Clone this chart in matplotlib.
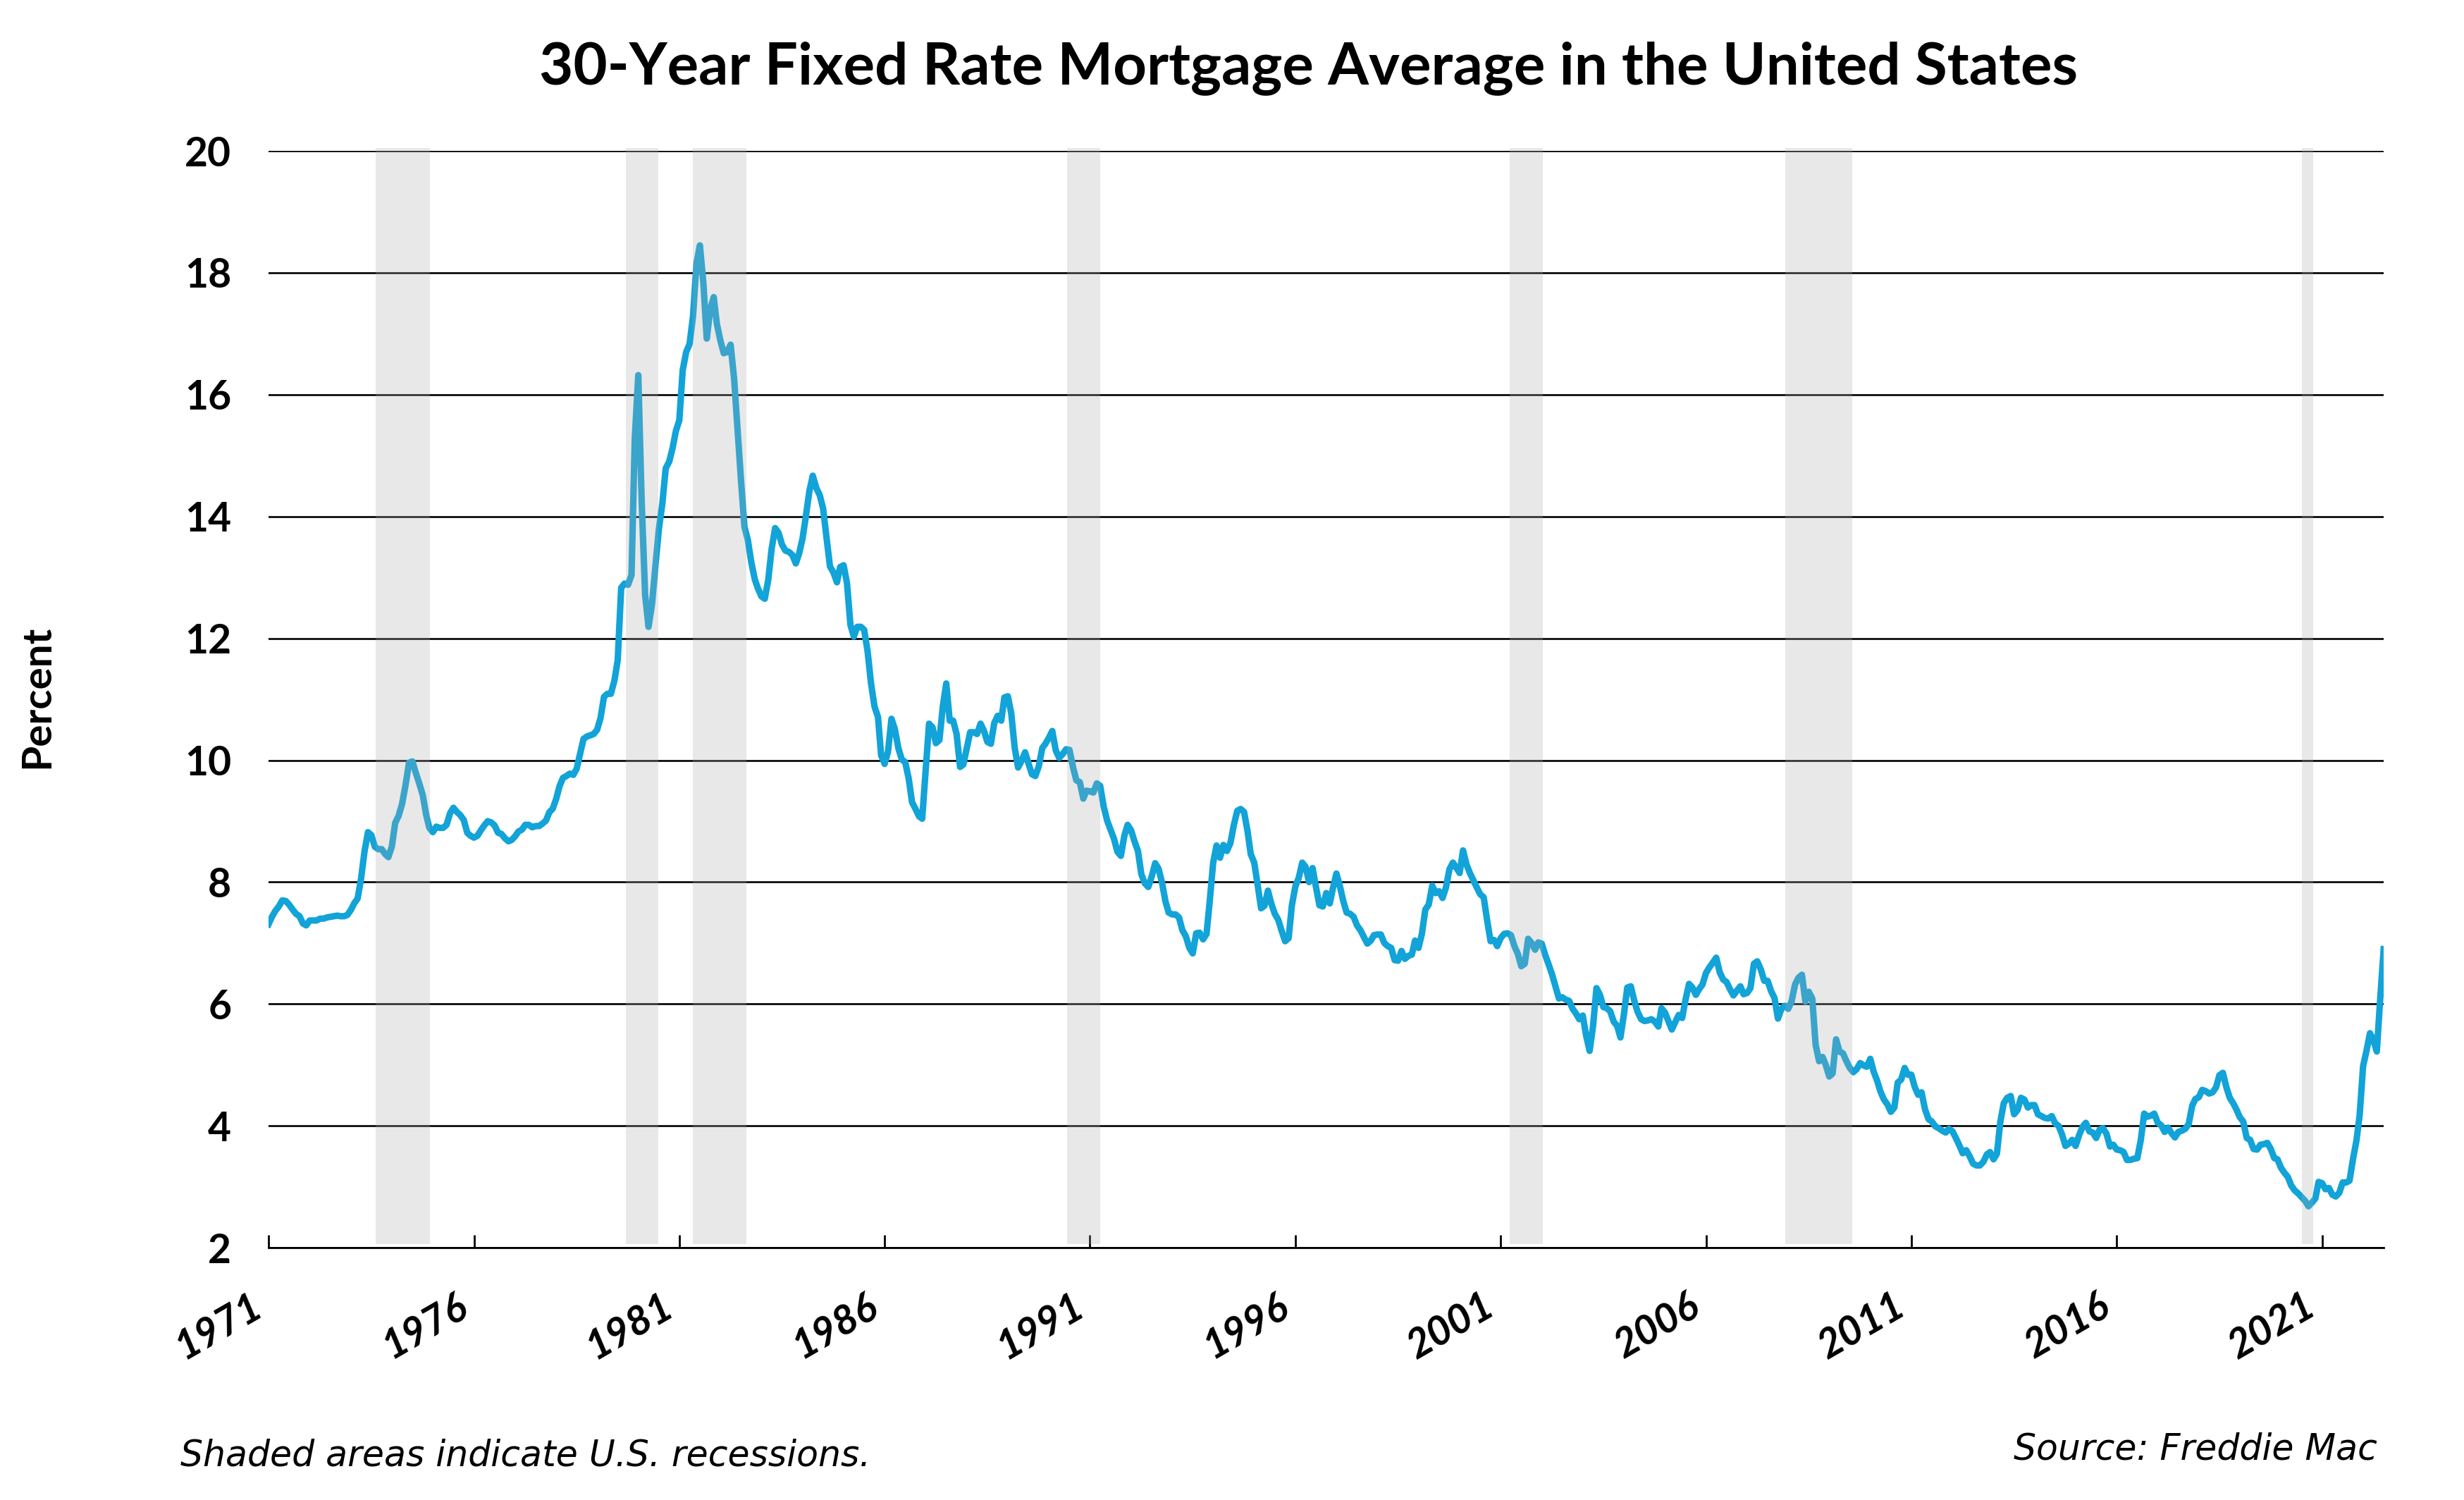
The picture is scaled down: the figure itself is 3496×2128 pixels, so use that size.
import matplotlib
matplotlib.use('Agg')
import matplotlib.pyplot as plt
import pandas as pd

# Monthly 30-year fixed rate average (%), starting April 1971
rate = [
    7.31, 7.43, 7.53, 7.60, 7.70, 7.69, 7.63, 7.55, 7.48,  # 1971 (Apr-Dec)
    7.44, 7.32, 7.29, 7.37, 7.37, 7.37, 7.40, 7.40, 7.42, 7.43, 7.44, 7.45,  # 1972
    7.44, 7.44, 7.46, 7.54, 7.65, 7.73, 8.05, 8.50, 8.82, 8.77, 8.58, 8.54,  # 1973
    8.54, 8.46, 8.41, 8.58, 8.97, 9.09, 9.28, 9.59, 9.96, 9.98, 9.79, 9.62,  # 1974
    9.43, 9.10, 8.89, 8.82, 8.91, 8.89, 8.89, 8.94, 9.13, 9.22, 9.15, 9.10,  # 1975
    9.02, 8.81, 8.76, 8.73, 8.76, 8.85, 8.93, 9.00, 8.98, 8.93, 8.81, 8.79,  # 1976
    8.72, 8.67, 8.69, 8.75, 8.83, 8.86, 8.94, 8.94, 8.90, 8.92, 8.92, 8.96,  # 1977
    9.01, 9.15, 9.20, 9.36, 9.57, 9.71, 9.74, 9.78, 9.76, 9.86, 10.11, 10.35,  # 1978
    10.39, 10.41, 10.43, 10.50, 10.69, 11.04, 11.09, 11.09, 11.30, 11.64, 12.83, 12.90,  # 1979
    12.88, 13.04, 15.28, 16.32, 14.26, 12.71, 12.19, 12.56, 13.20, 13.79, 14.21, 14.79,  # 1980
    14.90, 15.13, 15.40, 15.58, 16.40, 16.70, 16.83, 17.29, 18.16, 18.45, 17.83, 16.92,  # 1981
    17.40, 17.60, 17.16, 16.89, 16.68, 16.70, 16.82, 16.27, 15.43, 14.61, 13.83, 13.62,  # 1982
    13.25, 12.97, 12.82, 12.69, 12.65, 12.96, 13.47, 13.81, 13.73, 13.54, 13.44, 13.42,  # 1983
    13.37, 13.23, 13.39, 13.64, 14.01, 14.42, 14.67, 14.47, 14.35, 14.13, 13.64, 13.18,  # 1984
    13.08, 12.92, 13.17, 13.20, 12.91, 12.22, 12.03, 12.19, 12.19, 12.14, 11.78, 11.26,  # 1985
    10.88, 10.71, 10.08, 9.94, 10.14, 10.68, 10.51, 10.20, 10.01, 9.97, 9.70, 9.31,  # 1986
    9.20, 9.08, 9.04, 9.83, 10.60, 10.54, 10.28, 10.33, 10.89, 11.26, 10.65, 10.65,  # 1987
    10.43, 9.89, 9.93, 10.20, 10.46, 10.46, 10.43, 10.60, 10.48, 10.30, 10.27, 10.61,  # 1988
    10.73, 10.65, 11.03, 11.05, 10.77, 10.20, 9.88, 9.99, 10.13, 9.95, 9.77, 9.74,  # 1989
    9.90, 10.20, 10.27, 10.37, 10.48, 10.16, 10.04, 10.10, 10.18, 10.17, 9.89, 9.67,  # 1990
    9.64, 9.37, 9.50, 9.49, 9.47, 9.62, 9.58, 9.24, 9.01, 8.86, 8.71, 8.50,  # 1991
    8.43, 8.76, 8.94, 8.85, 8.67, 8.51, 8.13, 7.98, 7.92, 8.09, 8.31, 8.22,  # 1992
    7.99, 7.68, 7.50, 7.47, 7.47, 7.42, 7.21, 7.11, 6.92, 6.83, 7.16, 7.17,  # 1993
    7.06, 7.15, 7.68, 8.32, 8.60, 8.40, 8.61, 8.51, 8.64, 8.93, 9.17, 9.20,  # 1994
    9.15, 8.83, 8.46, 8.32, 7.96, 7.57, 7.61, 7.86, 7.64, 7.48, 7.38, 7.20,  # 1995
    7.03, 7.08, 7.62, 7.93, 8.07, 8.32, 8.25, 8.00, 8.23, 7.92, 7.62, 7.60,  # 1996
    7.82, 7.65, 7.90, 8.14, 7.94, 7.69, 7.50, 7.48, 7.43, 7.29, 7.21, 7.10,  # 1997
    6.99, 7.04, 7.13, 7.14, 7.14, 7.00, 6.95, 6.92, 6.72, 6.71, 6.87, 6.74,  # 1998
    6.79, 6.81, 7.04, 6.92, 7.15, 7.55, 7.63, 7.94, 7.82, 7.85, 7.74, 7.91,  # 1999
    8.21, 8.32, 8.24, 8.15, 8.52, 8.29, 8.15, 8.03, 7.91, 7.80, 7.75, 7.38,  # 2000
    7.03, 7.05, 6.95, 7.08, 7.15, 7.16, 7.13, 6.95, 6.82, 6.62, 6.66, 7.07,  # 2001
    7.00, 6.89, 7.01, 6.99, 6.81, 6.65, 6.49, 6.29, 6.09, 6.11, 6.07, 6.05,  # 2002
    5.92, 5.84, 5.75, 5.81, 5.48, 5.23, 5.63, 6.26, 6.15, 5.95, 5.93, 5.88,  # 2003
    5.71, 5.64, 5.45, 5.83, 6.27, 6.29, 6.06, 5.87, 5.75, 5.72, 5.73, 5.75,  # 2004
    5.71, 5.63, 5.93, 5.86, 5.72, 5.58, 5.70, 5.82, 5.77, 6.07, 6.33, 6.27,  # 2005
    6.15, 6.25, 6.32, 6.51, 6.60, 6.68, 6.76, 6.52, 6.40, 6.36, 6.24, 6.14,  # 2006
    6.22, 6.29, 6.16, 6.18, 6.26, 6.66, 6.70, 6.57, 6.38, 6.38, 6.21, 6.10,  # 2007
    5.76, 5.92, 5.97, 5.92, 6.04, 6.32, 6.43, 6.48, 6.04, 6.20, 6.09, 5.33,  # 2008
    5.06, 5.13, 5.00, 4.81, 4.86, 5.42, 5.22, 5.19, 5.06, 4.95, 4.88, 4.93,  # 2009
    5.03, 4.99, 4.97, 5.10, 4.89, 4.74, 4.56, 4.43, 4.35, 4.23, 4.30, 4.71,  # 2010
    4.76, 4.95, 4.84, 4.84, 4.64, 4.51, 4.55, 4.27, 4.11, 4.07, 3.99, 3.96,  # 2011
    3.92, 3.89, 3.95, 3.91, 3.80, 3.68, 3.55, 3.60, 3.50, 3.38, 3.35, 3.35,  # 2012
    3.41, 3.53, 3.57, 3.45, 3.54, 4.07, 4.37, 4.46, 4.49, 4.19, 4.26, 4.46,  # 2013
    4.43, 4.30, 4.34, 4.34, 4.19, 4.16, 4.13, 4.12, 4.16, 4.04, 4.00, 3.86,  # 2014
    3.67, 3.71, 3.77, 3.67, 3.84, 3.98, 4.05, 3.91, 3.89, 3.80, 3.94, 3.96,  # 2015
    3.87, 3.66, 3.69, 3.61, 3.60, 3.57, 3.44, 3.44, 3.46, 3.47, 3.77, 4.20,  # 2016
    4.15, 4.17, 4.20, 4.05, 4.01, 3.90, 3.97, 3.88, 3.81, 3.90, 3.92, 3.95,  # 2017
    4.03, 4.33, 4.44, 4.47, 4.59, 4.57, 4.53, 4.55, 4.63, 4.83, 4.87, 4.64,  # 2018
    4.46, 4.37, 4.27, 4.14, 4.07, 3.80, 3.77, 3.62, 3.61, 3.69, 3.70, 3.72,  # 2019
    3.62, 3.47, 3.45, 3.31, 3.23, 3.16, 3.02, 2.94, 2.89, 2.83, 2.77, 2.68,  # 2020
    2.74, 2.81, 3.08, 3.06, 2.96, 2.98, 2.87, 2.84, 2.90, 3.07, 3.07, 3.10,  # 2021
    3.45, 3.76, 4.17, 4.98, 5.23, 5.52, 5.41, 5.22, 6.11, 6.90,  # 2022 (Jan-Oct)
]
dates = pd.date_range('1971-04-01', periods=len(rate), freq='MS')

# Shaded bands as they sit in the picture
rec_start = ['1973-11-10', '1979-12-10', '1981-07-28', '1990-09-12',
             '2001-06-21', '2008-03-03', '2020-10-01']
rec_end = ['1975-03-06', '1980-09-25', '1982-11-18', '1991-07-03',
           '2002-04-12', '2009-10-21', '2021-01-10']

tick_years = list(range(1971, 2022, 5))
y_ticks = list(range(2, 21, 2))

LINE_COLOR = '#12A3D8'

plt.rcParams['font.family'] = ['Lato', 'DejaVu Sans']

fig = plt.figure(figsize=(17.48, 10.64), dpi=200)
ax = fig.add_axes([0.109, 0.1682, 0.8584, 0.7312])

ax.plot(dates, rate, color=LINE_COLOR, lw=3.3, zorder=3, solid_joinstyle='round')

# Recession shading sits on top of the line (semi transparent)
for s, e in zip(rec_start, rec_end):
    band = ax.axvspan(pd.Timestamp(s), pd.Timestamp(e), ymin=0.003, ymax=1.0026,
                      color='#AAAAAA', alpha=0.27, lw=0, zorder=4)
    band.set_clip_on(False)

ax.set_xlim(dates[0], dates[-1])
ax.set_ylim(2, 20)
ax.set_yticks(y_ticks)
ax.set_yticklabels([str(v) for v in y_ticks], fontsize=20.5, fontweight='bold')
ax.yaxis.grid(True, color='black', lw=0.95, zorder=1)
ax.set_axisbelow(True)

ax.set_xticks([pd.Timestamp(f'{y}-04-01') for y in tick_years])
ax.set_xticklabels([str(y) for y in tick_years], rotation=30, ha='right',
                   fontsize=20.5, fontweight='bold', style='italic')

ax.tick_params(axis='x', direction='in', length=6.5, width=1.0, pad=20)
ax.tick_params(axis='y', length=0, pad=19)

for side in ['top', 'left', 'right']:
    ax.spines[side].set_visible(False)
ax.spines['bottom'].set_linewidth(1.0)
ax.spines['bottom'].set_zorder(5)

fig.text(0.531, 0.9545, '30-Year Fixed Rate Mortgage Average in the United States',
         ha='center', va='center', fontsize=30, fontweight='bold')
fig.text(0.0152, 0.5357, 'Percent', rotation=90, ha='center', va='center',
         fontsize=21, fontweight='bold')
fig.text(0.0732, 0.0296, 'Shaded areas indicate U.S. recessions.', ha='left',
         va='center', fontsize=18.2, style='italic', family=['DejaVu Sans'])
fig.text(0.9648, 0.0338, 'Source: Freddie Mac', ha='right', va='center',
         fontsize=18.2, style='italic', family=['DejaVu Sans'])

fig.savefig('out.png', dpi=200)
